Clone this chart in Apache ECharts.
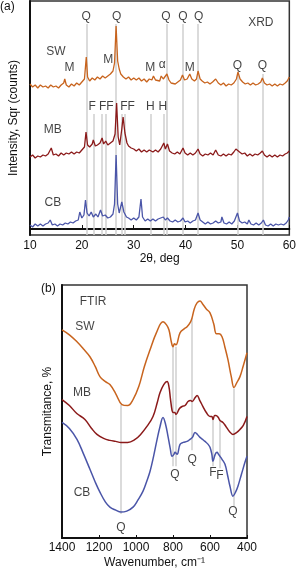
<!DOCTYPE html>
<html>
<head>
<meta charset="utf-8">
<script src="https://cdn.jsdelivr.net/npm/echarts@6/dist/echarts.min.js"></script>
<style>
  html, body { margin: 0; padding: 0; background: #fff; }
  #chart { width: 299px; height: 570px; }
</style>
</head>
<body>
<div id="chart"></div>
<script>
// XRD patterns, [2theta, intensity] (intensity in arbitrary offset units)
const xrdSW = [
  [10, 145], [10.5, 142], [11, 144], [11.5, 141], [12, 144], [12.5, 142], [13, 143], [13.5, 141], [14, 144], [14.5, 142],
  [15, 143], [15.5, 141], [16, 144], [16.5, 146], [16.7, 150], [17, 144], [17.5, 142], [18, 145], [18.5, 143], [19, 146],
  [19.5, 144], [20, 147], [20.5, 150], [20.85, 172], [21.1, 152], [21.5, 148], [22, 151], [22.5, 149], [23, 152], [23.5, 150],
  [24, 153], [24.5, 151], [25, 153], [25.5, 155], [26, 158], [26.3, 166], [26.6, 203], [26.9, 168], [27.2, 160], [27.5, 155],
  [28, 152], [28.5, 150], [29, 152], [29.5, 149], [30, 151], [30.5, 149], [31, 151], [31.5, 148], [32, 150], [32.5, 147],
  [33, 150], [33.5, 149], [33.8, 153], [34.2, 149], [34.5, 151], [35, 148], [35.3, 153], [35.7, 150], [36, 149], [36.4, 155],
  [36.8, 149], [37.2, 146], [37.5, 148], [38, 145], [38.5, 147], [39, 149], [39.4, 154], [39.8, 149], [40.3, 150], [40.8, 155],
  [41.2, 150], [41.7, 148], [42.1, 150], [42.4, 158], [42.8, 150], [43.2, 148], [43.7, 146], [44.2, 147], [44.7, 145], [45.2, 147],
  [45.8, 150], [46.3, 146], [46.8, 144], [47.3, 146], [47.8, 143], [48.3, 145], [48.8, 144], [49.3, 146], [49.8, 150], [50.1, 157],
  [50.5, 150], [51, 147], [51.5, 145], [52, 146], [52.5, 144], [53, 146], [53.5, 144], [54, 145], [54.5, 147], [54.8, 151],
  [55.2, 146], [55.7, 144], [56.2, 145], [56.7, 143], [57.2, 145], [57.7, 143], [58.2, 145], [58.7, 144], [59.2, 146], [59.6, 148],
  [60, 152]
]
const xrdMB = [
  [10, 72], [10.5, 74], [11, 71], [11.5, 73], [12, 72], [12.5, 74], [13, 73], [13.5, 75], [14.1, 81], [14.5, 74],
  [15, 75], [15.5, 73], [16, 76], [16.5, 74], [17, 76], [17.5, 75], [18, 77], [18.5, 75], [19, 77], [19.5, 76],
  [20, 79], [20.5, 82], [20.8, 97], [21.1, 84], [21.5, 82], [22, 85], [22.2, 89], [22.6, 83], [23, 84], [23.5, 86],
  [23.9, 91], [24.2, 85], [24.6, 88], [25, 84], [25.5, 86], [26, 88], [26.4, 95], [26.7, 126], [27, 92], [27.3, 84],
  [27.7, 100], [27.95, 112], [28.3, 96], [28.7, 86], [29, 83], [29.5, 81], [30, 80], [30.5, 78], [31, 80], [31.5, 77],
  [32, 79], [32.5, 77], [33, 79], [33.3, 81], [33.7, 77], [34.2, 79], [34.7, 77], [35.2, 80], [35.8, 86], [36.1, 80],
  [36.5, 85], [36.9, 78], [37.4, 76], [37.9, 75], [38.4, 77], [38.9, 75], [39.5, 81], [39.9, 76], [40.4, 74], [40.9, 76],
  [41.4, 74], [41.9, 76], [42.4, 80], [42.8, 75], [43.3, 73], [43.8, 75], [44.3, 74], [44.8, 76], [45.3, 74], [45.8, 79],
  [46.3, 74], [46.8, 73], [47.3, 75], [47.8, 73], [48.3, 75], [48.8, 74], [49.3, 77], [49.7, 80], [50, 82], [50.4, 77],
  [50.9, 75], [51.4, 76], [51.9, 73], [52.4, 75], [52.9, 73], [53.4, 75], [53.9, 74], [54.4, 76], [54.8, 78], [55.2, 74],
  [55.7, 72], [56.2, 74], [56.7, 72], [57.2, 74], [57.7, 72], [58.2, 74], [58.7, 73], [59.2, 75], [59.6, 76], [60, 78]
]
const xrdCB = [
  [10, 4], [10.5, 2], [11, 5], [11.5, 3], [12, 5], [12.5, 3], [13, 5], [13.5, 6], [13.9, 9], [14.3, 4],
  [14.8, 5], [15.3, 3], [15.8, 5], [16.3, 4], [16.8, 6], [17.3, 5], [17.8, 7], [18.3, 6], [18.8, 8], [19.3, 9],
  [19.6, 17], [20, 11], [20.4, 14], [20.7, 29], [21, 16], [21.4, 13], [21.8, 17], [22.2, 12], [22.7, 15], [23.1, 12],
  [23.6, 19], [24, 13], [24.5, 14], [25, 11], [25.5, 12], [26, 15], [26.3, 25], [26.6, 74], [26.9, 25], [27.2, 16],
  [27.7, 27], [28.1, 17], [28.6, 12], [29, 11], [29.5, 9], [30, 11], [30.5, 9], [31, 12], [31.4, 30], [31.7, 12],
  [32.2, 8], [32.7, 10], [33.2, 8], [33.7, 10], [34.2, 8], [34.7, 10], [35.2, 11], [35.7, 12], [36.1, 9], [36.5, 11],
  [37, 8], [37.5, 7], [38, 9], [38.5, 7], [39, 8], [39.5, 11], [39.9, 7], [40.4, 8], [40.9, 6], [41.4, 8],
  [41.9, 9], [42.4, 16], [42.8, 9], [43.3, 7], [43.8, 5], [44.3, 7], [44.8, 5], [45.3, 6], [45.8, 8], [46.3, 6],
  [46.8, 7], [47, 12], [47.4, 6], [47.9, 5], [48.4, 7], [48.9, 5], [49.4, 8], [50, 16], [50.4, 8], [50.9, 6],
  [51.4, 7], [51.9, 5], [52.2, 9], [52.6, 5], [53.1, 4], [53.6, 6], [54.1, 4], [54.6, 6], [55, 9], [55.4, 4],
  [55.9, 3], [56.4, 5], [56.9, 3], [57.4, 5], [57.9, 4], [58.4, 5], [58.9, 4], [59.4, 6], [59.8, 9], [60, 12]
]

// FTIR spectra, [wavenumber, transmittance] (offset units)
const ftirSW = [
  [1400, 209], [1360, 204], [1319, 197], [1285, 190], [1249, 182], [1220, 172], [1195, 162], [1165, 157], [1141, 154], [1110, 145],
  [1076, 134], [1045, 133], [1016, 139], [985, 152], [955, 172], [924, 189], [890, 206], [854, 217], [835, 214], [822, 209],
  [808, 196], [800, 192], [792, 195], [784, 194], [762, 206], [740, 210], [724, 212], [705, 217], [697, 221], [685, 230],
  [670, 236], [654, 238], [640, 235], [620, 230], [600, 226], [580, 215], [565, 205], [550, 205], [535, 202], [520, 192],
  [503, 179], [485, 162], [470, 151], [455, 156], [438, 162], [420, 173], [400, 186]
]
const ftirMB = [
  [1400, 139], [1360, 133], [1320, 125], [1276, 119], [1240, 110], [1211, 104], [1175, 100], [1141, 98], [1110, 97], [1081, 96],
  [1045, 96], [1005, 99], [975, 104], [941, 112], [908, 122], [885, 136], [870, 146], [850, 154], [832, 157], [822, 152],
  [814, 140], [805, 128], [800, 126], [790, 126], [784, 124], [765, 130], [751, 132], [735, 133], [719, 137], [705, 138],
  [697, 137], [680, 141], [670, 143], [655, 138], [638, 132], [620, 126], [600, 122], [590, 122], [584, 119], [575, 123],
  [568, 123], [555, 121], [546, 118], [530, 116], [514, 112], [495, 107], [476, 104], [455, 106], [438, 109], [420, 113], [400, 122]
]
const ftirCB = [
  [1400, 116], [1360, 110], [1319, 99], [1285, 85], [1249, 69], [1220, 56], [1195, 46], [1165, 36], [1141, 31], [1110, 28],
  [1081, 26], [1050, 27], [1016, 31], [990, 38], [962, 47], [940, 58], [924, 67], [905, 82], [886, 99], [870, 112],
  [854, 121], [840, 114], [827, 102], [815, 90], [805, 82], [795, 84], [789, 86], [778, 84], [762, 94], [745, 96],
  [724, 97], [708, 99], [695, 101], [681, 106], [668, 104], [654, 101], [640, 99], [627, 97], [610, 94], [600, 91],
  [590, 84], [584, 77], [572, 84], [562, 86], [554, 84], [546, 82], [535, 79], [519, 74], [505, 63], [492, 52],
  [476, 42], [462, 46], [449, 52], [430, 64], [411, 76], [400, 82]
]

// grey reference lines: [position, top, bottom]
const xrdRefLines = [
  [20.85, 205, -6], [26.6, 205, -6], [36.4, 205, -6], [39.4, 205, -6], [42.4, 205, -6],
  [50.1, 155, -6], [54.8, 155, -6],
  [22.2, 115, -6], [23.8, 115, -6], [24.6, 115, -6], [27.7, 115, -6], [28.3, 115, -6],
  [33.25, 115, -6], [35.8, 115, -6]
]
const ftirRefLines = [
  [1080, 134, 24], [800, 192, 72], [785, 192, 72], [697, 221, 88],
  [584, 119, 72], [546, 119, 70], [470, 150, 31]
]

// annotations: [position, height, text]
const xrdLabels = [
  [20.85, 212, 'Q'], [26.7, 212, 'Q'], [36.2, 212, 'Q'], [39.5, 212, 'Q'], [42.5, 212, 'Q'],
  [50.0, 163, 'Q'], [54.8, 163, 'Q'],
  [17.6, 161, 'M'], [25.1, 169, 'M'], [33.2, 161, 'M'], [35.5, 164, 'α'], [40.8, 161, 'M'],
  [22.0, 122, 'F'], [24.7, 122, 'FF'], [28.8, 122, 'FF'], [33.2, 122, 'H'], [35.6, 122, 'H'],
  [15.0, 177, 'SW'], [14.4, 99, 'MB'], [14.4, 26, 'CB'], [54.5, 206, 'XRD']
]
const ftirLabels = [
  [1232, 237, 'FTIR'], [1276, 212, 'SW'], [1292, 146, 'MB'], [1292, 45, 'CB'],
  [1081, 10, 'Q'], [789, 64, 'Q'], [697, 79, 'Q'], [584, 66, 'F'], [546, 63, 'F'], [476, 26, 'Q']
]

const COLORS = { SW: '#c8641e', MB: '#8b1a1a', CB: '#4a55a8' }
const FONT = 'Liberation Sans, Arial, sans-serif'

const chart = echarts.init(document.getElementById('chart'), null, { renderer: 'canvas' })

function curve(name, data, idx, width, smooth) {
  return {
    name: name,
    type: 'line',
    xAxisIndex: idx,
    yAxisIndex: idx,
    data: data,
    showSymbol: false,
    smooth: smooth,
    z: 3,
    lineStyle: { color: COLORS[name], width: width },
    silent: true
  }
}

function refLines(list, idx) {
  return {
    type: 'lines',
    coordinateSystem: 'cartesian2d',
    xAxisIndex: idx,
    yAxisIndex: idx,
    z: 1,
    silent: true,
    lineStyle: { color: '#cfcfcf', width: 1.5, opacity: 1 },
    data: list.map(d => ({ coords: [[d[0], d[1]], [d[0], d[2]]] }))
  }
}

function annotations(list, idx) {
  return {
    type: 'scatter',
    xAxisIndex: idx,
    yAxisIndex: idx,
    symbolSize: 0,
    z: 5,
    silent: true,
    label: {
      show: true,
      position: 'inside',
      formatter: '{b}',
      color: '#111',
      fontSize: 12,
      fontFamily: FONT
    },
    data: list.map(d => ({ name: d[2], value: [d[0], d[1]] }))
  }
}

const axisText = { color: '#111', fontSize: 12, fontFamily: FONT }

chart.setOption({
  backgroundColor: '#fff',
  animation: false,
  graphic: [
    { type: 'text', left: 0, top: 1, style: { text: '(a)', fill: '#111', font: '12px ' + FONT } },
    { type: 'text', left: 41, top: 283, style: { text: '(b)', fill: '#111', font: '12px ' + FONT } }
  ],
  grid: [
    { left: 21, top: 1, right: 8, bottom: 335, show: true, borderColor: '#333', borderWidth: 1.5 },
    { left: 62, top: 285, right: 52, bottom: 31, show: true, borderColor: '#333', borderWidth: 1.5 }
  ],
  xAxis: [
    {
      gridIndex: 0, type: 'value', min: 10, max: 60, interval: 10,
      name: '2θ, deg', nameLocation: 'middle', nameGap: 17, nameTextStyle: axisText,
      axisLine: { lineStyle: { color: '#111', width: 2 } },
      axisTick: { inside: true, length: 4, lineStyle: { color: '#111' } },
      axisLabel: Object.assign({ margin: 5 }, axisText),
      splitLine: { show: false }
    },
    {
      gridIndex: 1, type: 'value', min: 400, max: 1400, interval: 200, inverse: true,
      name: 'Wavenumber, cm⁻¹', nameLocation: 'middle', nameGap: 19, nameTextStyle: axisText,
      axisLine: { lineStyle: { color: '#111', width: 2 } },
      axisTick: { inside: true, length: 3, lineStyle: { color: '#111' } },
      axisLabel: Object.assign({ margin: 4, formatter: v => String(v) }, axisText),
      splitLine: { show: false }
    }
  ],
  yAxis: [
    {
      gridIndex: 0, type: 'value', min: -6, max: 228,
      name: 'Intensity, Sqr (counts)', nameLocation: 'middle', nameGap: 10, nameTextStyle: axisText,
      axisLine: { show: true, lineStyle: { color: '#111', width: 2 } },
      axisTick: { show: false }, axisLabel: { show: false }, splitLine: { show: false }
    },
    {
      gridIndex: 1, type: 'value', min: 0, max: 254,
      name: 'Transmitance, %', nameLocation: 'middle', nameGap: 8, nameTextStyle: axisText,
      axisLine: { show: true, lineStyle: { color: '#111', width: 2 } },
      axisTick: { show: false }, axisLabel: { show: false }, splitLine: { show: false }
    }
  ],
  series: [
    refLines(xrdRefLines, 0),
    curve('SW', xrdSW, 0, 1.3, false),
    curve('MB', xrdMB, 0, 1.3, false),
    curve('CB', xrdCB, 0, 1.3, false),
    annotations(xrdLabels, 0),
    refLines(ftirRefLines, 1),
    curve('SW', ftirSW, 1, 1.5, 0.4),
    curve('MB', ftirMB, 1, 1.5, 0.4),
    curve('CB', ftirCB, 1, 1.5, 0.4),
    annotations(ftirLabels, 1)
  ]
})
</script>
</body>
</html>
